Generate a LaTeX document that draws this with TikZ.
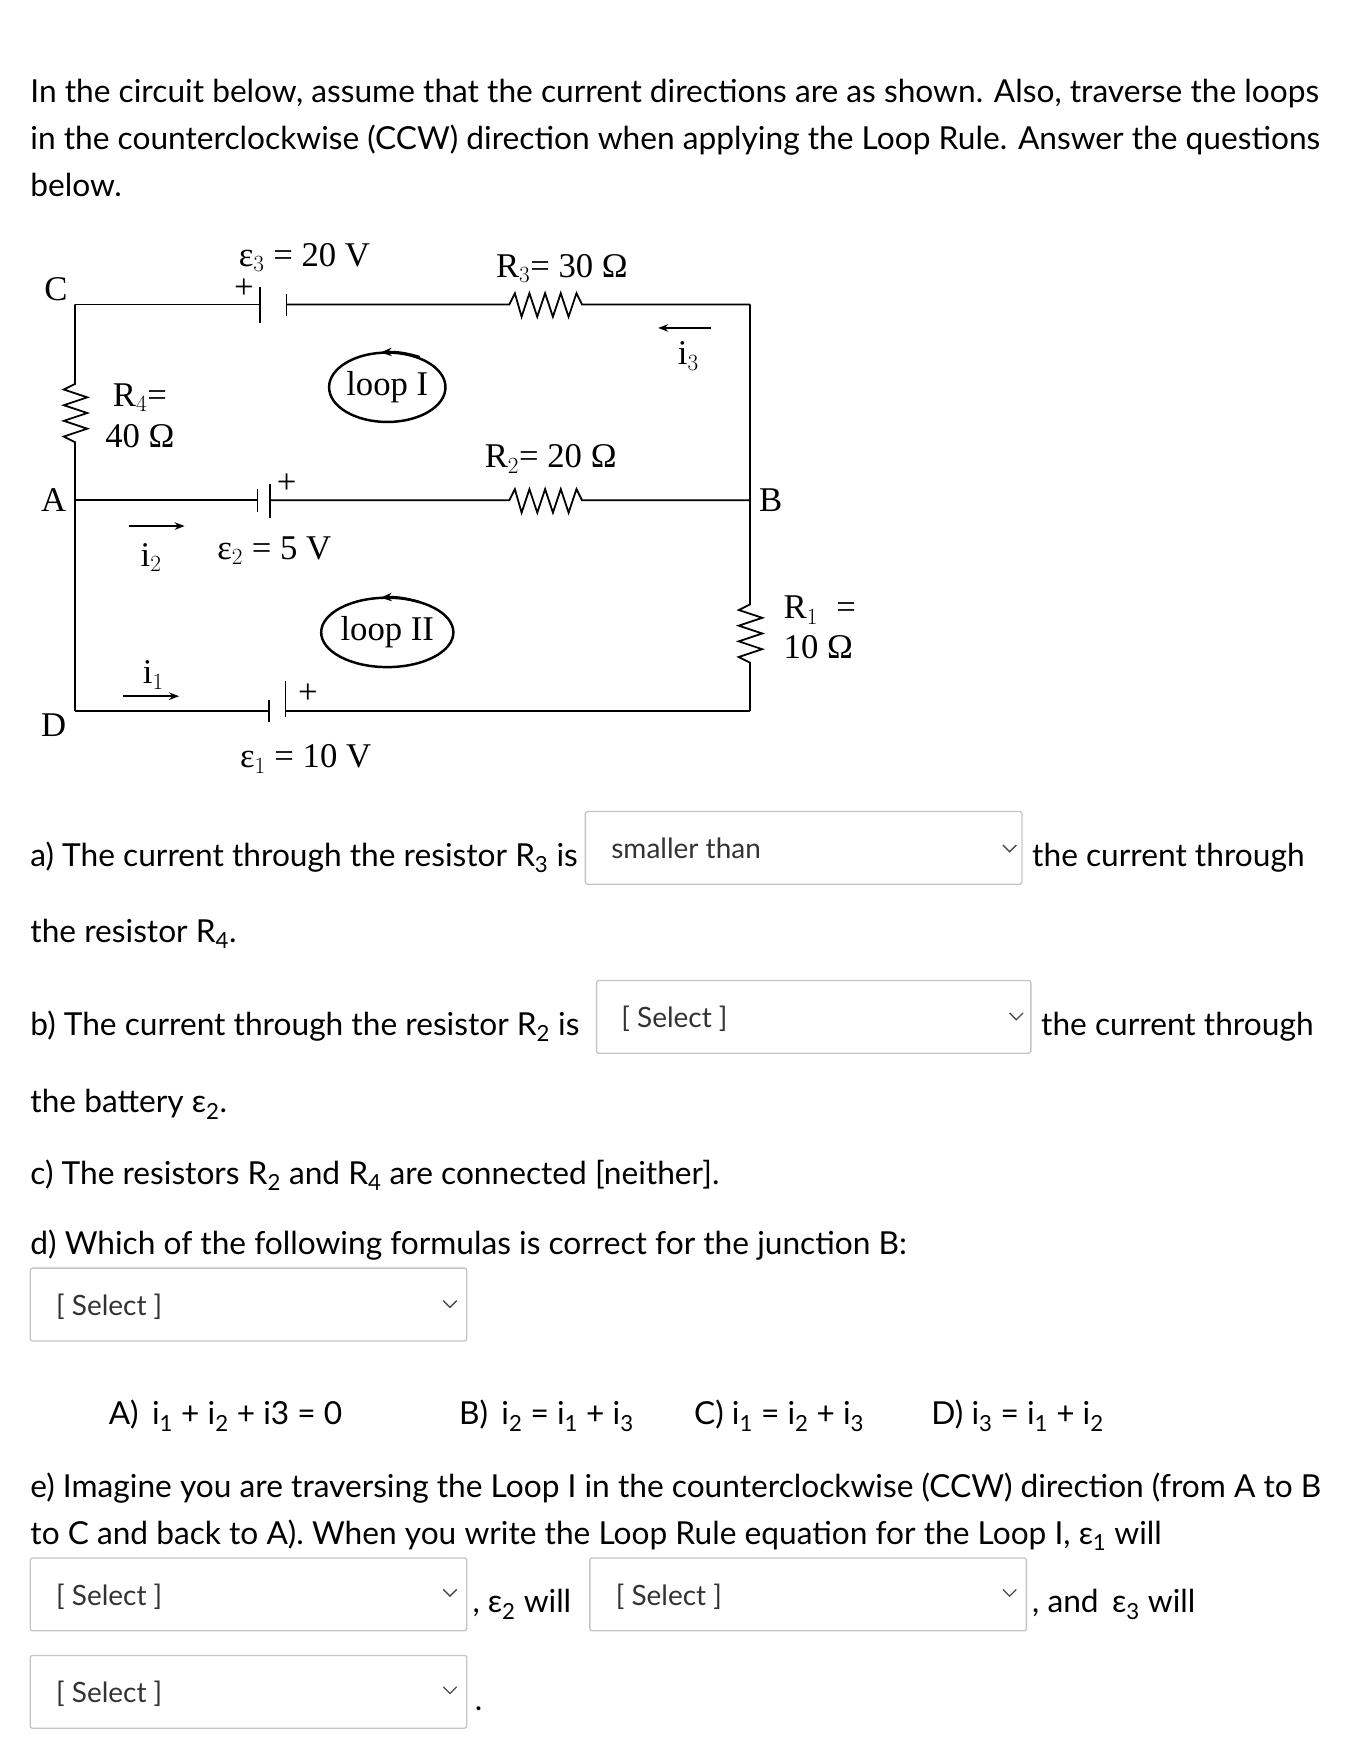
\documentclass[tikz,border=0pt]{standalone}
\usepackage{fontspec}
\setmainfont{Lato}
\newfontfamily\tms{Liberation Serif}
\usetikzlibrary{arrows.meta,shapes.geometric}
\tikzset{
 wire/.style={line width=1.6pt},
 body/.style={anchor=base west,inner sep=0pt,font=\fontsize{28.3}{42}\selectfont},
 ckt/.style={inner sep=0pt,font=\tms\fontsize{31}{34}\selectfont},
 selbox/.style={draw=gray!45,line width=1.2pt,rounded corners=2pt},
 seltxt/.style={anchor=base west,inner sep=0pt,font=\fontsize{25}{30}\selectfont,text=black!80},
 chev/.style={line width=1.2pt,black!70},
 loopell/.style={line width=2.2pt},
 cur/.style={line width=1.4pt,-{Stealth[length=9pt]}}
}
\begin{document}
\begin{tikzpicture}[x=1pt,y=-1pt]
\useasboundingbox[fill=white] (0,0) rectangle (1215,1576);
\node[body] (t1) at (27,92) {In the circuit below, assume that the current directions are as shown. Also, traverse the loops};
\node[body] (t2) at (27,134) {in the counterclockwise (CCW) direction when applying the Loop Rule. Answer the questions};
\node[body] (t3) at (27,176) {below.};
\coordinate (C) at (67,272); \coordinate (TR) at (670,272);
\coordinate (A) at (67,447); \coordinate (B) at (670,447);
\coordinate (D) at (67,635); \coordinate (BR) at (670,635);
\draw[wire] (C) -- (232,272);
\draw[wire] (232,256) -- (232,289);
\draw[wire] (256,263) -- (256,282);
\draw[wire] (256,272) -- (455,272) -- (460,262) -- (466,283) -- (473,262) -- (480,283) -- (487,262) -- (494,283) -- (501,262) -- (508,283) -- (515,262) -- (520,272) -- (TR);
\draw[wire] (TR) -- (670,540) -- (660,545) -- (681,552) -- (660,559) -- (681,566) -- (660,573) -- (681,580) -- (660,587) -- (670,592) -- (BR);
\draw[wire] (C) -- (67,343) -- (57,348) -- (78,355) -- (57,362) -- (78,369) -- (57,376) -- (78,383) -- (57,390) -- (67,395) -- (D);
\draw[wire] (A) -- (230,447);
\draw[wire] (230,437) -- (230,457);
\draw[wire] (241,432) -- (241,463);
\draw[wire] (241,447) -- (455,447) -- (460,437) -- (466,458) -- (473,437) -- (480,458) -- (487,437) -- (494,458) -- (501,437) -- (508,458) -- (515,437) -- (520,447) -- (B);
\draw[wire] (D) -- (240,635);
\draw[wire] (240,625) -- (240,645);
\draw[wire] (255,608) -- (255,641);
\draw[wire] (255,635) -- (BR);
\node[ckt] (lC) at (50,258) {C};
\node[ckt] (lA) at (48,447) {A};
\node[ckt] (lD) at (48,648) {D};
\node[ckt,anchor=west] (lB) at (678,447) {B};
\node[ckt] (le3) at (272,230) {ε$_3$ = 20 V};
\node[ckt] (pl3) at (218,258) {+};
\node[ckt] (lR3) at (502,240) {R$_3$= 30 Ω};
\node[ckt] (lR4a) at (125,355) {R$_4$=};
\node[ckt] (lR4b) at (125,390) {40 Ω};
\node[ckt] (lR2) at (492,410) {R$_2$= 20 Ω};
\node[ckt] (pl2) at (256,432) {+};
\node[ckt] (le2) at (245,492) {ε$_2$ = 5 V};
\node[ckt,anchor=west] (lR1a) at (700,545) {R$_1$ \;=};
\node[ckt,anchor=west] (lR1b) at (700,578) {10 Ω};
\node[ckt] (pl1) at (275,620) {+};
\node[ckt] (le1) at (273,678) {ε$_1$ = 10 V};
\node[ckt,draw,ellipse,loopell,minimum width=104pt,minimum height=62pt] (L1) at (346,346) {loop I};
\node[ckt,draw,ellipse,loopell,minimum width=104pt,minimum height=62pt] (L2) at (346,565) {loop II};
\draw[line width=2.2pt,-{Stealth[length=10pt]}] (375,319) to[bend right=10] (340,315);
\draw[line width=2.2pt,-{Stealth[length=10pt]}] (375,538) to[bend right=10] (340,534);
\draw[cur] (635,293) -- (588,293);
\node[ckt] (i3) at (615,318) {i$_3$};
\draw[cur] (115,470) -- (165,470);
\node[ckt] (i2) at (135,498) {i$_2$};
\node[ckt] (i1) at (137,603) {i$_1$};
\draw[cur] (110,622) -- (160,622);
\node[body] (qa) at (27,774) {a) The current through the resistor R\textsubscript{3} is};
\draw[selbox] (523,725) rectangle (913,790);
\node[seltxt] (sa) at (546,767) {smaller than};
\draw[chev] (896,755) -- (902,761) -- (908,755);
\node[body] (qa2) at (922,774) {the current through};
\node[body] (qa3) at (27,842) {the resistor R\textsubscript{4}.};
\node[body] (qb) at (27,925) {b) The current through the resistor R\textsubscript{2} is};
\draw[selbox] (533,876) rectangle (921,941);
\node[seltxt] (sb) at (555,918) {[ Select ]};
\draw[chev] (902,905) -- (908,911) -- (914,905);
\node[body] (qb2) at (930,925) {the current through};
\node[body] (qb3) at (27,994) {the battery ε\textsubscript{2}.};
\node[body] (qc) at (27,1058) {c) The resistors R\textsubscript{2} and R\textsubscript{4} are connected [neither].};
\node[body] (qd) at (27,1121) {d) Which of the following formulas is correct for the junction B:};
\draw[selbox] (27,1133) rectangle (417,1198);
\node[seltxt] (sd) at (50,1175) {[ Select ]};
\draw[chev] (396,1162) -- (402,1168) -- (408,1162);
\node[body] (fa) at (97,1273) {A)\, i\textsubscript{1} + i\textsubscript{2} + i3 = 0};
\node[body] (fb) at (410,1273) {B)\, i\textsubscript{2} = i\textsubscript{1} + i\textsubscript{3}};
\node[body] (fc) at (620,1273) {C) i\textsubscript{1} = i\textsubscript{2} + i\textsubscript{3}};
\node[body] (fd) at (832,1273) {D) i\textsubscript{3} = i\textsubscript{1} + i\textsubscript{2}};
\node[body] (qe) at (27,1338) {e) Imagine you are traversing the Loop I in the counterclockwise (CCW) direction (from A to B};
\node[body] (qe2) at (27,1380) {to C and back to A). When you write the Loop Rule equation for the Loop I, ε\textsubscript{1} will};
\draw[selbox] (27,1392) rectangle (417,1457);
\node[seltxt] (se1) at (50,1434) {[ Select ]};
\draw[chev] (396,1420) -- (402,1426) -- (408,1420);
\node[body] (qe3) at (422,1441) {, ε\textsubscript{2} will};
\draw[selbox] (527,1392) rectangle (917,1457);
\node[seltxt] (se2) at (550,1434) {[ Select ]};
\draw[chev] (896,1420) -- (902,1426) -- (908,1420);
\node[body] (qe4) at (922,1441) {, and\, ε\textsubscript{3} will};
\draw[selbox] (27,1479) rectangle (417,1544);
\node[seltxt] (se3) at (50,1521) {[ Select ]};
\draw[chev] (396,1507) -- (402,1513) -- (408,1507);
\node[body] (qe5) at (424,1528) {.};
\end{tikzpicture}
\end{document}
